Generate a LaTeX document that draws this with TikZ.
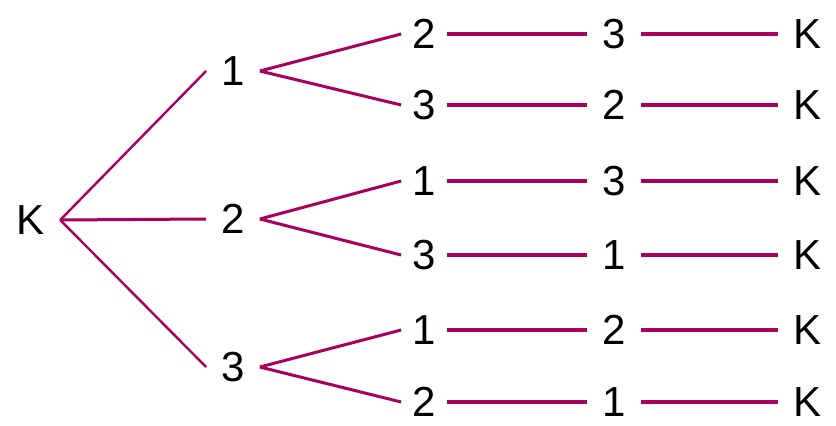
\documentclass[tikz,border=0pt]{standalone}
\usepackage{fontspec}
\setmainfont{Liberation Sans}
\usepackage{tikz}
\definecolor{treeline}{RGB}{168,0,92}
\tikzset{lbl/.style={inner xsep=15pt,inner ysep=0pt,font=\fontsize{42}{50}\selectfont}}
\tikzset{sub/.style={lbl,inner xsep=11pt}}
\tikzset{edge/.style={draw=treeline,line width=3.4pt}}

\begin{document}
\begin{tikzpicture}[x=1pt,y=-1pt]
\useasboundingbox (0,0) rectangle (836,426);

\node[lbl] (K0) at (31, 220) {K};

\node[lbl] (A1) at (233, 71) {1};
\node[lbl] (A2) at (233, 219) {2};
\node[lbl] (A3) at (233, 367) {3};

\draw[edge, line width=2.4pt] (K0.east) -- (A1.west);
\draw[edge, line width=3pt] (K0.east) -- (A2.west);
\draw[edge, line width=2.4pt] (K0.east) -- (A3.west);

% the six paths
\foreach \r/\y/\b/\c in {1/34/2/3, 2/105/3/2, 3/181/1/3, 4/255/3/1, 5/330/1/2, 6/402/2/1} {
  \node[sub] (B\r) at (424, \y) {\b};
  \node[lbl] (C\r) at (614, \y) {\c};
  \node[lbl] (E\r) at (807, \y) {K};
  \draw[edge] (B\r.east) -- (C\r.west);
  \draw[edge] (C\r.east) -- (E\r.west);
}

\draw[edge, line width=3pt] (A1.east) -- (B1.west);
\draw[edge, line width=3pt] (A1.east) -- (B2.west);
\draw[edge, line width=3pt] (A2.east) -- (B3.west);
\draw[edge, line width=3pt] (A2.east) -- (B4.west);
\draw[edge, line width=3pt] (A3.east) -- (B5.west);
\draw[edge, line width=3pt] (A3.east) -- (B6.west);

\end{tikzpicture}
\end{document}
